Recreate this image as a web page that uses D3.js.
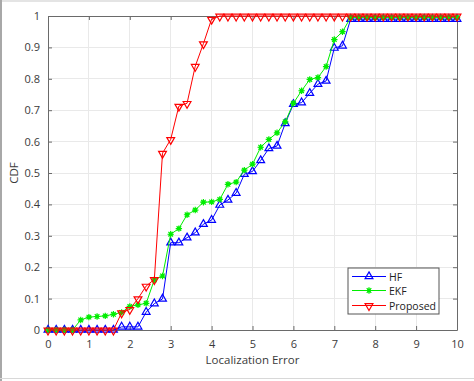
<!DOCTYPE html>
<html>
<head>
<meta charset="utf-8">
<script src="https://cdn.jsdelivr.net/npm/d3@7"></script>
<style>
  html, body { margin: 0; padding: 0; background: #fff; }
  svg { display: block; }
  text { font-family: "Open Sans", "Noto Sans", sans-serif; }
</style>
</head>
<body>
<script>
// ---- data ----
const xValues = [0,0.2,0.4,0.6,0.8,1.0,1.2,1.4,1.6,1.8,2.0,2.2,2.4,2.6,2.8,3.0,3.2,3.4,3.6,3.8,4.0,4.2,4.4,4.6,4.8,5.0,5.2,5.4,5.6,5.8,6.0,6.2,6.4,6.6,6.8,7.0,7.2,7.4,7.6,7.8,8.0,8.2,8.4,8.6,8.8,9.0,9.2,9.4,9.6,9.8,10.0];
const hfValues = [0,0,0,0,0,0,0,0,0,0.01,0.01,0.01,0.057,0.084,0.099,0.278,0.278,0.294,0.31,0.337,0.35,0.398,0.414,0.436,0.496,0.505,0.54,0.578,0.586,0.658,0.719,0.724,0.754,0.783,0.793,0.898,0.905,0.99,0.99,0.99,0.99,0.99,0.99,0.99,0.99,0.99,0.99,0.99,0.99,0.99,0.99];
const ekfValues = [0,0,0,0,0.032,0.041,0.043,0.045,0.05,0.056,0.075,0.08,0.085,0.16,0.172,0.305,0.323,0.367,0.382,0.407,0.408,0.416,0.464,0.471,0.509,0.528,0.582,0.607,0.628,0.663,0.722,0.762,0.798,0.804,0.839,0.925,0.95,0.995,0.995,0.995,0.995,0.995,0.995,0.995,0.995,0.995,0.995,0.995,0.995,0.995,0.995];
const proposedValues = [0,0,0,0,0,0,0,0,0,0.055,0.066,0.10,0.14,0.161,0.563,0.607,0.713,0.722,0.84,0.912,0.99,1,1,1,1,1,1,1,1,1,1,1,1,1,1,1,1,1,1,1,1,1,1,1,1,1,1,1,1,1,1];
const seriesNames = ["HF", "EKF", "Proposed"];
const xTicks = [0,1,2,3,4,5,6,7,8,9,10];
const yTicks = [0,0.1,0.2,0.3,0.4,0.5,0.6,0.7,0.8,0.9,1];
const xLabel = "Localization Error";
const yLabel = "CDF";

// ---- layout ----
const W = 474, H = 381;
const L = 48, R = 457, T = 16, B = 330;
const svg = d3.select("body").append("svg").attr("width", W).attr("height", H);

// frame
svg.append("rect").attr("x", 0).attr("y", 0).attr("width", W).attr("height", H).attr("fill", "#fff");
svg.append("rect").attr("x", 0).attr("y", 0).attr("width", W).attr("height", 2).attr("fill", "#e4e4e4");
svg.append("rect").attr("x", 0).attr("y", 0).attr("width", 2).attr("height", H).attr("fill", "#a8a8a8");
svg.append("rect").attr("x", 0).attr("y", H - 3).attr("width", W).attr("height", 1).attr("fill", "#d8d8d8");

const x = d3.scaleLinear().domain([0, 10]).range([L, R]);
const y = d3.scaleLinear().domain([0, 1]).range([B, T]);

// grid
const grid = svg.append("g");
grid.selectAll(".vg").data(xTicks).enter().append("line")
  .attr("x1", d => x(d)).attr("x2", d => x(d)).attr("y1", T).attr("y2", B)
  .attr("stroke", "#e9e9e9").attr("stroke-width", 1).attr("shape-rendering", "crispEdges");
grid.selectAll(".hg").data(yTicks).enter().append("line")
  .attr("x1", L).attr("x2", R).attr("y1", d => y(d)).attr("y2", d => y(d))
  .attr("stroke", "#e9e9e9").attr("stroke-width", 1).attr("shape-rendering", "crispEdges");

// axes
const axisColor = "#6a6a6a";
const tickFmt = d => d3.format("~g")(d);
const gx = svg.append("g").attr("transform", `translate(0,${B})`)
  .call(d3.axisBottom(x).tickValues(xTicks).tickFormat(tickFmt).tickSizeInner(-4).tickSizeOuter(0).tickPadding(10));
const gxt = svg.append("g").attr("transform", `translate(0,${T})`)
  .call(d3.axisTop(x).tickValues(xTicks).tickFormat("").tickSizeInner(-4).tickSizeOuter(0));
const gy = svg.append("g").attr("transform", `translate(${L},0)`)
  .call(d3.axisLeft(y).tickValues(yTicks).tickFormat(tickFmt).tickSizeInner(-4).tickSizeOuter(0).tickPadding(8));
const gyr = svg.append("g").attr("transform", `translate(${R},0)`)
  .call(d3.axisRight(y).tickValues(yTicks).tickFormat("").tickSizeInner(-4).tickSizeOuter(0));
[gx, gxt, gy, gyr].forEach(g => {
  g.select(".domain").attr("stroke", axisColor);
  g.selectAll(".tick line").attr("stroke", axisColor);
  g.selectAll("text").attr("fill", "#3a3a3a").attr("font-size", 11).attr("font-family", "'Open Sans', sans-serif");
});

// series
function triUp(s) { return `M0,${-4.6*s/4}L${3.9*s/4},${2.2*s/4}L${-3.9*s/4},${2.2*s/4}Z`; }
function triDown(s) { return `M0,${5*s/4}L${3.9*s/4},${-1.8*s/4}L${-3.9*s/4},${-1.8*s/4}Z`; }
function star(r) {
  const d = r * 0.72;
  return `M${-r},0L${r},0M0,${-r}L0,${r}M${-d},${-d}L${d},${d}M${-d},${d}L${d},${-d}`;
}
const series = [
  { name: seriesNames[0], values: hfValues, color: "#0000ff", marker: "up" },
  { name: seriesNames[1], values: ekfValues, color: "#00ee00", marker: "star" },
  { name: seriesNames[2], values: proposedValues, color: "#ff0000", marker: "down" }
];
const line = d3.line().x(d => x(d[0])).y(d => y(d[1]));

function drawMarker(g, type, color, px, py) {
  if (type === "up") {
    g.append("path").attr("d", triUp(4)).attr("transform", `translate(${px},${py})`)
      .attr("fill", "none").attr("stroke", color).attr("stroke-width", 1.2);
  } else if (type === "down") {
    g.append("path").attr("d", triDown(4)).attr("transform", `translate(${px},${py})`)
      .attr("fill", "none").attr("stroke", color).attr("stroke-width", 1.2);
  } else {
    g.append("circle").attr("cx", px).attr("cy", py).attr("r", 2).attr("fill", "#22dd22");
    g.append("path").attr("d", star(3.2)).attr("transform", `translate(${px},${py})`)
      .attr("fill", "none").attr("stroke", color).attr("stroke-width", 1.2);
  }
}

series.forEach(s => {
  const pts = xValues.map((xv, i) => [xv, s.values[i]]);
  const g = svg.append("g");
  g.append("path").attr("d", line(pts)).attr("fill", "none").attr("stroke", s.color).attr("stroke-width", 1);
  pts.forEach(p => drawMarker(g, s.marker, s.color, x(p[0]), y(p[1])));
});

// axis labels
svg.append("text").attr("x", (L + R) / 2).attr("y", 364).attr("text-anchor", "middle")
  .attr("font-size", 11.5).attr("fill", "#3a3a3a").text(xLabel);
svg.append("text").attr("transform", `translate(18,${(T + B) / 2}) rotate(-90)`).attr("text-anchor", "middle")
  .attr("font-size", 11.5).attr("fill", "#3a3a3a").text(yLabel);

// legend
const lg = svg.append("g");
lg.append("rect").attr("x", 348).attr("y", 268).attr("width", 91).attr("height", 46)
  .attr("fill", "#fff").attr("stroke", "#555").attr("stroke-width", 1);
const rowY = [276.5, 290.5, 305.5];
series.forEach((s, i) => {
  lg.append("line").attr("x1", 352).attr("x2", 386).attr("y1", rowY[i]).attr("y2", rowY[i])
    .attr("stroke", s.color).attr("stroke-width", 1);
  drawMarker(lg, s.marker, s.color, 369, rowY[i]);
  lg.append("text").attr("x", 389).attr("y", rowY[i] + 4).attr("font-size", 10.5)
    .attr("fill", "#222").text(s.name);
});
</script>
</body>
</html>
